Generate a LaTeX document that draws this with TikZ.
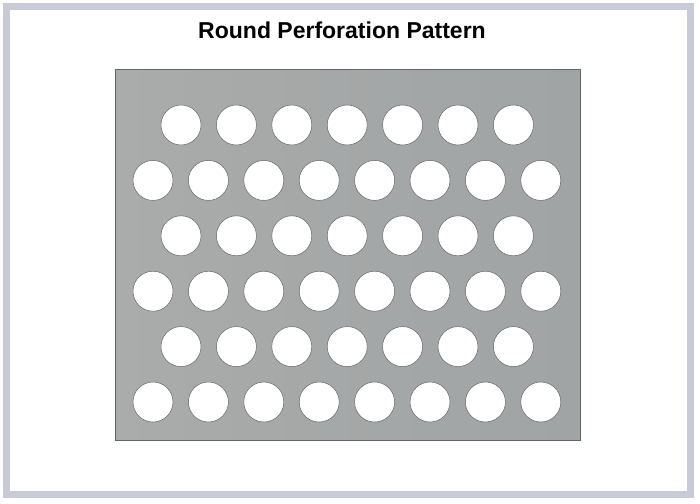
\documentclass[tikz,border=0pt]{standalone}
\usepackage{fontspec}
\setmainfont{Liberation Sans}
\usepackage{tikz}
\usetikzlibrary{positioning}
\definecolor{framegray}{RGB}{200,202,214}
\definecolor{plateleft}{RGB}{170,171,171}
\definecolor{plateright}{RGB}{160,164,164}
\definecolor{edgegray}{RGB}{100,100,100}
\tikzset{
    plate/.style={
        draw=edgegray,
        line width=0.6pt,
        left color=plateleft,
        right color=plateright
    },
    hole/.style={
        draw=edgegray,
        circle,
        fill=white,
        line width=0.5pt,
        minimum size=40pt,
        inner sep=0pt
    },
    heading/.style={
        font=\bfseries\fontsize{23}{26}\selectfont
    }
}

\begin{document}
\begin{tikzpicture}[x=1pt,y=-1pt]
  \useasboundingbox (0,0) rectangle (700,503);
  % outer frame
  \draw[framegray, line width=7pt] (6,6.5) rectangle (690.5,494.5);

  % title
  \node[heading] (title) at (342,30) {Round Perforation Pattern};

  % perforated sheet
  \draw[plate] (115,69) rectangle (580,440);

  % Define hole pitch
  \def\p{55.4}

  % rows with 7 holes (shifted)
  \foreach \r in {0,2,4} {
    \foreach \c in {0,...,6} {
      \node[hole] (h\r-\c) at (181+\c*\p, 125+\r*\p) {};
    }
  }

  % rows with 8 holes
  \foreach \r in {1,3,5} {
    \foreach \c in {0,...,7} {
      \node[hole] (h\r-\c) at (153+\c*\p, 125+\r*\p) {};
    }
  }
\end{tikzpicture}
\end{document}
